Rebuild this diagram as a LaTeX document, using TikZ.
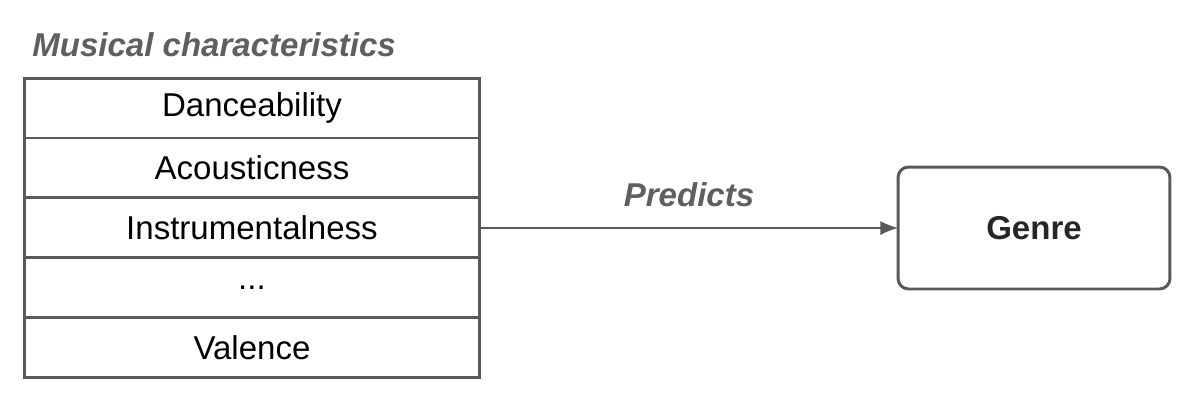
\documentclass[tikz,border=0pt]{standalone}
\usepackage{fontspec}
\setmainfont{Liberation Sans}
\usetikzlibrary{positioning,arrows.meta}
\definecolor{edgegray}{HTML}{595959}
\definecolor{labelgray}{HTML}{5F5F5F}
\tikzset{
  row/.style={draw=edgegray, line width=1.7pt, minimum width=9.12cm, minimum height=1.2cm,
    inner sep=0pt, outer sep=0pt, font=\fontsize{18.8}{21}\selectfont},
  title/.style={text=labelgray, font=\fontsize{18.8}{21}\selectfont\bfseries\itshape}
}
\begin{document}
\begin{tikzpicture}[x=0.02cm, y=-0.02cm]
    \useasboundingbox (0,0) rectangle (1200,407);
    \node[title, anchor=west, inner sep=0pt] (head) at (32,45) {Musical characteristics};
    \node[row] (dance) at (252,108) {Danceability};
    \node[row, below=0pt of dance] (acoustic) {Acousticness};
    \node[row, below=0pt of acoustic] (instr) {Instrumentalness};
    \node[row, below=0pt of instr] (dots) {...};
    \node[row, below=0pt of dots] (valence) {Valence};
    \node[draw=edgegray, line width=1.7pt, rounded corners=6pt, minimum width=5.44cm,
      minimum height=2.44cm, outer sep=0pt, text=black!85,
      font=\fontsize{18.8}{21}\selectfont\bfseries] (genre) at (1034,228) {Genre};
    \draw[-{Latex[length=10pt,width=8pt]}, edgegray, line width=0.9pt] (instr.east) -- (genre.west)
      node[midway, above=8pt, title] {Predicts};
\end{tikzpicture}
\end{document}
